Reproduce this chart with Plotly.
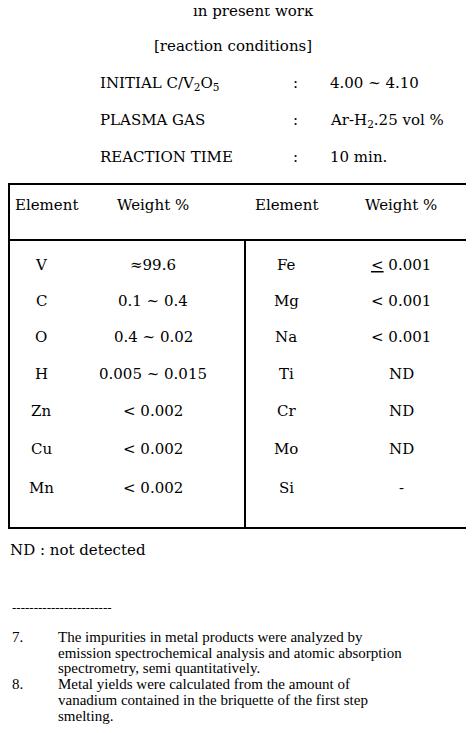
import plotly.graph_objects as go

# Reaction conditions
cond_labels = ["INITIAL C/V<sub>2</sub>O<sub>5</sub>", "PLASMA GAS", "REACTION TIME"]
cond_values = ["4.00 ~ 4.10", "Ar-H<sub>2</sub>.25 vol %", "10 min."]

# Table columns
headers = ["Element", "Weight %", "Element", "Weight %"]
elem_left = ["V", "C", "O", "H", "Zn", "Cu", "Mn"]
wt_left = ["≈99.6", "0.1 ~ 0.4", "0.4 ~ 0.02", "0.005 ~ 0.015", "< 0.002", "< 0.002", "< 0.002"]
elem_right = ["Fe", "Mg", "Na", "Ti", "Cr", "Mo", "Si"]
wt_right = ["<u><</u> 0.001", "< 0.001", "< 0.001", "ND", "ND", "ND", "-"]

row_y = [264, 300, 336, 373, 410, 448, 487]
col_x = [38, 145, 278, 393]

serif = "DejaVu Serif, serif"
times = "Liberation Serif, Times New Roman, serif"
dy = -7  # annotation baseline correction

fig = go.Figure()
ann = []


def txt(x, y, s, size=15, anchor="center", font=serif):
    ann.append(dict(x=x, y=y + dy, text=s, showarrow=False, xanchor=anchor, yanchor="middle",
                    font=dict(family=font, size=size, color="black")))


txt(245, 10, "in present work")
txt(225, 45, "[reaction conditions]")
for i, (lab, val) in enumerate(zip(cond_labels, cond_values)):
    y = 82 + i * 37
    txt(90, y, lab, anchor="left")
    txt(287, y, ":")
    txt(320, y, val, anchor="left")

for x, h in zip(col_x, headers):
    txt(x, 204, h)
for i, y in enumerate(row_y):
    txt(33, y, elem_left[i])
    txt(145, y, wt_left[i])
    txt(278, y, elem_right[i])
    txt(393, y, wt_right[i])

txt(0, 549, "ND : not detected", anchor="left")
txt(2, 606, "-----------------------", size=13, anchor="left", font=times)
foot = [
    (636, "7.", "The impurities in metal products were analyzed by"),
    (652, "", "emission spectrochemical analysis and atomic absorption"),
    (667, "", "spectrometry, semi quantitatively."),
    (683, "8.", "Metal yields were calculated from the amount of"),
    (699, "", "vanadium contained in the briquette of the first step"),
    (715, "", "smelting."),
]
for y, num, s in foot:
    if num:
        txt(2, y, num, size=15, anchor="left", font=times)
    txt(48, y, s, size=15, anchor="left", font=times)

line = dict(color="black", width=2)
shapes = [
    dict(type="line", x0=0, x1=466, y0=176, y1=176, line=line),
    dict(type="line", x0=0, x1=466, y0=232, y1=232, line=line),
    dict(type="line", x0=0, x1=466, y0=520, y1=520, line=line),
    dict(type="line", x0=1, x1=1, y0=176, y1=520, line=line),
    dict(type="line", x0=465, x1=465, y0=176, y1=520, line=dict(color="black", width=3)),
    dict(type="line", x0=237, x1=237, y0=232, y1=520, line=line),
]

fig.update_layout(
    width=474, height=733, margin=dict(l=0, r=0, t=0, b=0),
    paper_bgcolor="white", plot_bgcolor="white",
    xaxis=dict(range=[0, 474], visible=False, fixedrange=True),
    yaxis=dict(range=[733, 0], visible=False, fixedrange=True),
    annotations=ann, shapes=shapes, showlegend=False,
)
fig.write_html("out.html")
